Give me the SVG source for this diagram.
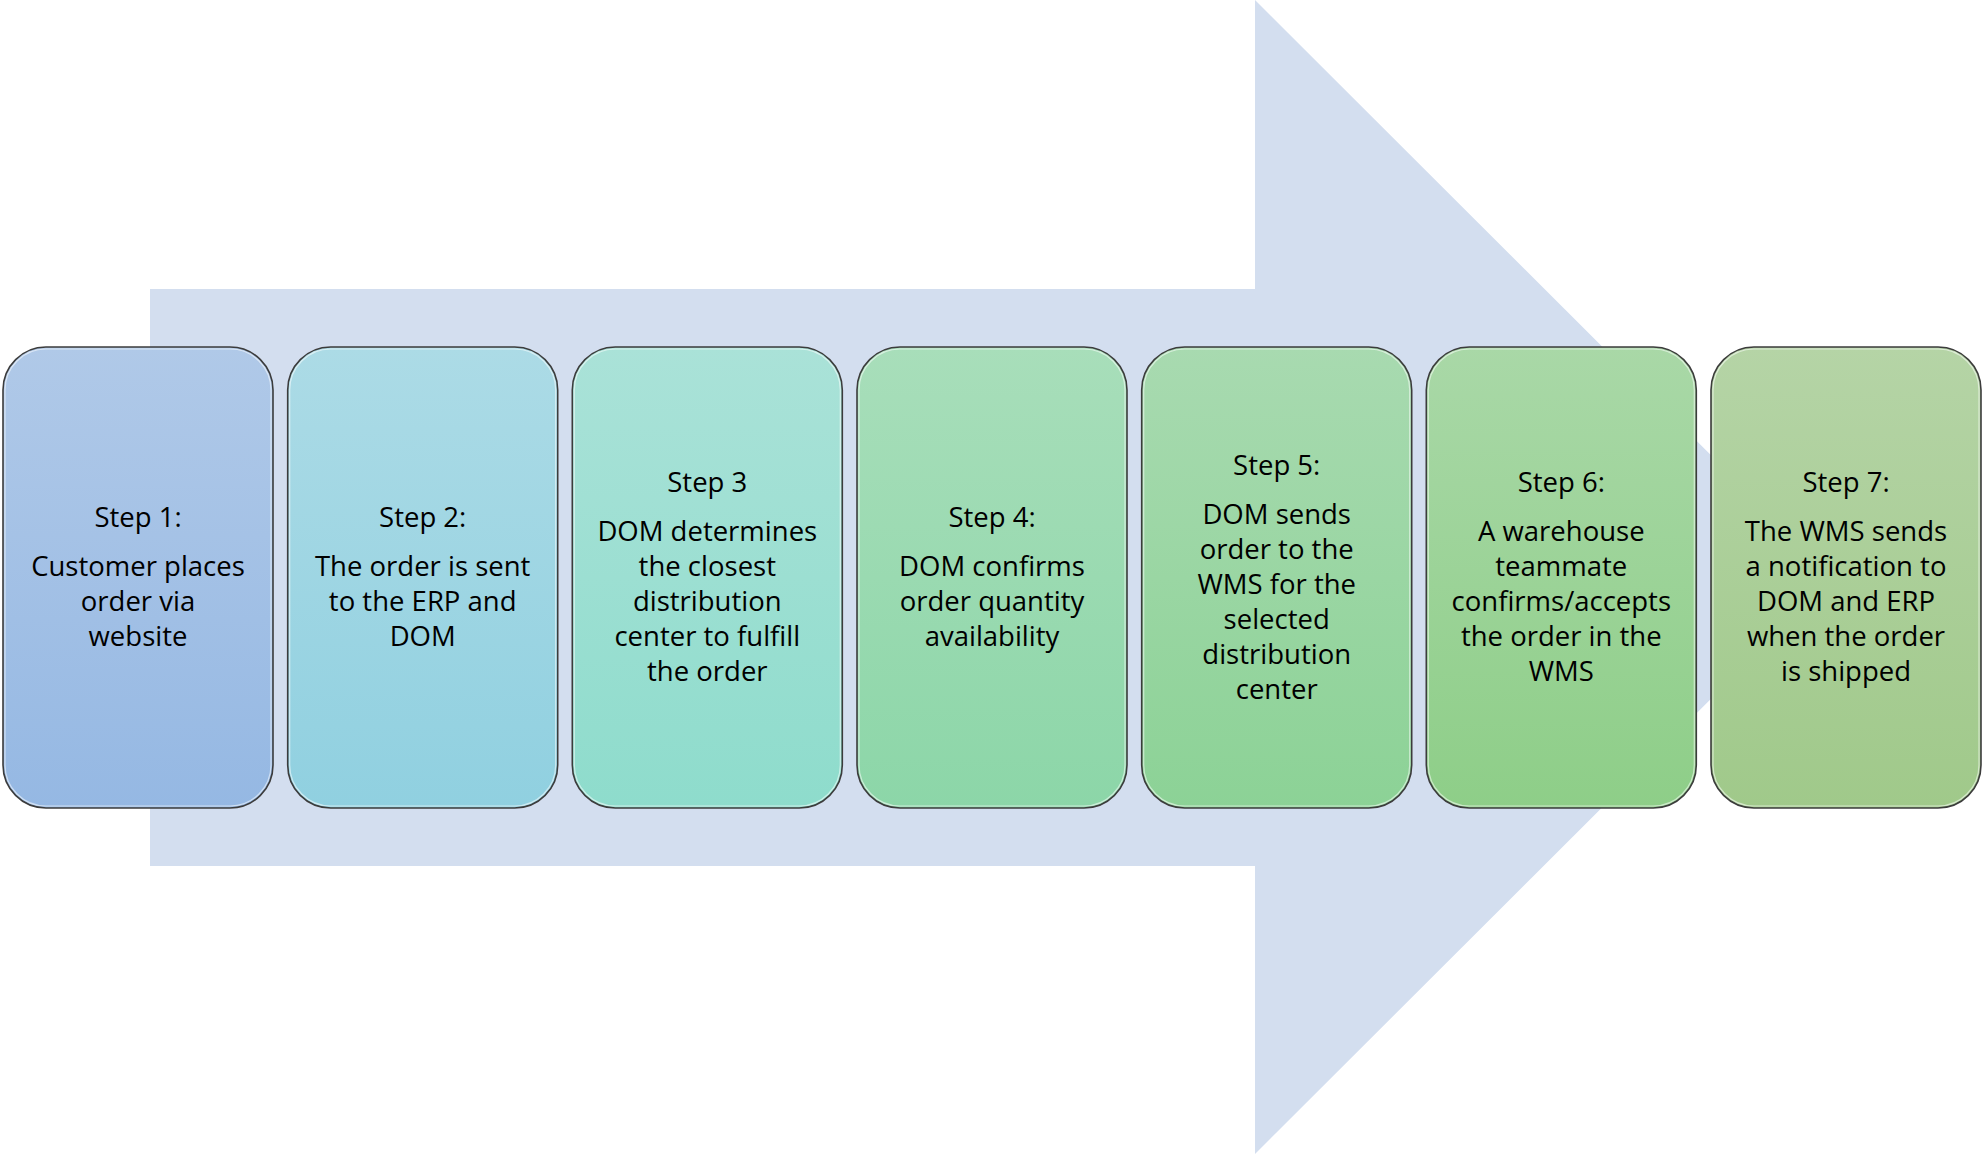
<svg xmlns="http://www.w3.org/2000/svg" width="1984" height="1155" viewBox="0 0 1984 1155">
<defs>
<linearGradient id="g1" x1="0" y1="0" x2="0" y2="1"><stop offset="0" stop-color="#b0c9e8"/><stop offset="1" stop-color="#95b8e3"/></linearGradient>
<linearGradient id="g2" x1="0" y1="0" x2="0" y2="1"><stop offset="0" stop-color="#acdbe6"/><stop offset="1" stop-color="#90d0e0"/></linearGradient>
<linearGradient id="g3" x1="0" y1="0" x2="0" y2="1"><stop offset="0" stop-color="#aae2d8"/><stop offset="1" stop-color="#8edccc"/></linearGradient>
<linearGradient id="g4" x1="0" y1="0" x2="0" y2="1"><stop offset="0" stop-color="#a8deba"/><stop offset="1" stop-color="#8cd6a8"/></linearGradient>
<linearGradient id="g5" x1="0" y1="0" x2="0" y2="1"><stop offset="0" stop-color="#a8dab0"/><stop offset="1" stop-color="#8cd296"/></linearGradient>
<linearGradient id="g6" x1="0" y1="0" x2="0" y2="1"><stop offset="0" stop-color="#a9d8a7"/><stop offset="1" stop-color="#8ece88"/></linearGradient>
<linearGradient id="g7" x1="0" y1="0" x2="0" y2="1"><stop offset="0" stop-color="#b5d4a6"/><stop offset="1" stop-color="#a0c98a"/></linearGradient>
</defs>
<style>
.box{stroke:#3c3c3c;stroke-width:1.6}
.hl{fill:none;stroke:#ffffff;stroke-opacity:0.55;stroke-width:1.2}
text{font-family:"Open Sans",Lato,"Liberation Sans",sans-serif;font-size:27.5px;fill:#000;text-anchor:middle}
</style>
<g id="connectors">
<polygon id="arrow" points="150,289 1255,289 1255,0 1833,577 1255,1154 1255,866 150,866" fill="#d3deef"/>
</g>
<g id="step1">
<rect class="box" x="3" y="347" width="270" height="461" rx="43" fill="url(#g1)"/>
<rect class="hl" x="5" y="349" width="266" height="457" rx="41"/>
<text x="138" y="527">Step 1:</text>
<text x="138" y="576">Customer places</text>
<text x="138" y="611">order via</text>
<text x="138" y="646">website</text>
</g>
<g id="step2">
<rect class="box" x="287.7" y="347" width="270" height="461" rx="43" fill="url(#g2)"/>
<rect class="hl" x="289.7" y="349" width="266" height="457" rx="41"/>
<text x="422.7" y="527">Step 2:</text>
<text x="422.7" y="576">The order is sent</text>
<text x="422.7" y="611">to the ERP and</text>
<text x="422.7" y="646">DOM</text>
</g>
<g id="step3">
<rect class="box" x="572.3" y="347" width="270" height="461" rx="43" fill="url(#g3)"/>
<rect class="hl" x="574.3" y="349" width="266" height="457" rx="41"/>
<text x="707.3" y="492">Step 3</text>
<text x="707.3" y="541">DOM determines</text>
<text x="707.3" y="576">the closest</text>
<text x="707.3" y="611">distribution</text>
<text x="707.3" y="646">center to fulfill</text>
<text x="707.3" y="681">the order</text>
</g>
<g id="step4">
<rect class="box" x="857" y="347" width="270" height="461" rx="43" fill="url(#g4)"/>
<rect class="hl" x="859" y="349" width="266" height="457" rx="41"/>
<text x="992" y="527">Step 4:</text>
<text x="992" y="576">DOM confirms</text>
<text x="992" y="611">order quantity</text>
<text x="992" y="646">availability</text>
</g>
<g id="step5">
<rect class="box" x="1141.7" y="347" width="270" height="461" rx="43" fill="url(#g5)"/>
<rect class="hl" x="1143.7" y="349" width="266" height="457" rx="41"/>
<text x="1276.7" y="474.5">Step 5:</text>
<text x="1276.7" y="523.5">DOM sends</text>
<text x="1276.7" y="558.5">order to the</text>
<text x="1276.7" y="593.5">WMS for the</text>
<text x="1276.7" y="628.5">selected</text>
<text x="1276.7" y="663.5">distribution</text>
<text x="1276.7" y="698.5">center</text>
</g>
<g id="step6">
<rect class="box" x="1426.3" y="347" width="270" height="461" rx="43" fill="url(#g6)"/>
<rect class="hl" x="1428.3" y="349" width="266" height="457" rx="41"/>
<text x="1561.3" y="492">Step 6:</text>
<text x="1561.3" y="541">A warehouse</text>
<text x="1561.3" y="576">teammate</text>
<text x="1561.3" y="611">confirms/accepts</text>
<text x="1561.3" y="646">the order in the</text>
<text x="1561.3" y="681">WMS</text>
</g>
<g id="step7">
<rect class="box" x="1711" y="347" width="270" height="461" rx="43" fill="url(#g7)"/>
<rect class="hl" x="1713" y="349" width="266" height="457" rx="41"/>
<text x="1846" y="492">Step 7:</text>
<text x="1846" y="541">The WMS sends</text>
<text x="1846" y="576">a notification to</text>
<text x="1846" y="611">DOM and ERP</text>
<text x="1846" y="646">when the order</text>
<text x="1846" y="681">is shipped</text>
</g>
</svg>
